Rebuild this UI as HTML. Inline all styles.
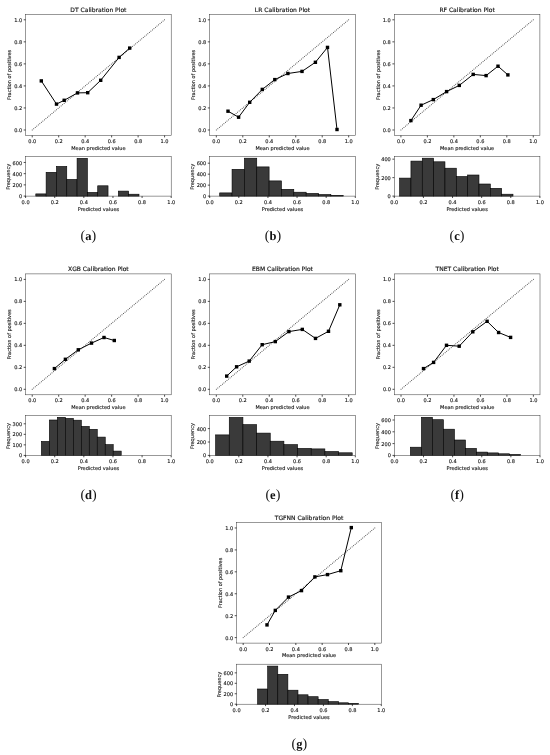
<!DOCTYPE html>
<html><head><meta charset="utf-8"><style>
html,body{margin:0;padding:0;background:#fff;}
svg{display:block;text-rendering:geometricPrecision;}
.t{font-family:"DejaVu Sans","Liberation Sans",sans-serif;font-size:5.0px;fill:#1a1a1a;stroke:#1a1a1a;stroke-width:0.14px;}
.ti{font-family:"DejaVu Sans","Liberation Sans",sans-serif;font-size:6.0px;fill:#111;stroke:#111;stroke-width:0.15px;}
.cap{font-family:"Liberation Serif",serif;font-size:14px;fill:#111;}
.cl{font-weight:bold;font-size:12.5px;}
.tc{text-anchor:middle;}
.yl{font-size:5.0px;}
.te{text-anchor:end;}
.diag{stroke:#3a3a3a;stroke-width:1.0;stroke-linecap:round;fill:none;}
.curve{fill:none;stroke:#000;stroke-width:1;stroke-linejoin:round;}
.mk{fill:#000;}
.sp{fill:none;stroke:#333;stroke-width:0.5;}
.tk{stroke:#000;stroke-width:0.7;}
.bar{fill:#3a3a3a;stroke:#000;stroke-width:0.6;}
</style></head><body>
<svg width="550" height="755" viewBox="0 0 550 755">
<rect width="550" height="755" fill="#fff"/>
<g>
<path d="M32.22 129.99h0M33.74 128.72h0M35.26 127.46h0M36.78 126.19h0M38.3 124.93h0M39.83 123.66h0M41.35 122.39h0M42.87 121.13h0M44.39 119.86h0M45.91 118.59h0M47.43 117.33h0M48.95 116.06h0M50.48 114.79h0M52 113.53h0M53.52 112.26h0M55.04 110.99h0M56.56 109.73h0M58.08 108.46h0M59.6 107.19h0M61.13 105.93h0M62.65 104.66h0M64.17 103.4h0M65.69 102.13h0M67.21 100.86h0M68.73 99.6h0M70.25 98.33h0M71.78 97.06h0M73.3 95.8h0M74.82 94.53h0M76.34 93.26h0M77.86 92h0M79.38 90.73h0M80.9 89.46h0M82.43 88.2h0M83.95 86.93h0M85.47 85.66h0M86.99 84.4h0M88.51 83.13h0M90.03 81.87h0M91.55 80.6h0M93.08 79.33h0M94.6 78.07h0M96.12 76.8h0M97.64 75.53h0M99.16 74.27h0M100.68 73h0M102.2 71.73h0M103.72 70.47h0M105.25 69.2h0M106.77 67.93h0M108.29 66.67h0M109.81 65.4h0M111.33 64.14h0M112.85 62.87h0M114.37 61.6h0M115.9 60.34h0M117.42 59.07h0M118.94 57.8h0M120.46 56.54h0M121.98 55.27h0M123.5 54h0M125.02 52.74h0M126.55 51.47h0M128.07 50.2h0M129.59 48.94h0M131.11 47.67h0M132.63 46.4h0M134.15 45.14h0M135.67 43.87h0M137.2 42.61h0M138.72 41.34h0M140.24 40.07h0M141.76 38.81h0M143.28 37.54h0M144.8 36.27h0M146.32 35.01h0M147.85 33.74h0M149.37 32.47h0M150.89 31.21h0M152.41 29.94h0M153.93 28.67h0M155.45 27.41h0M156.97 26.14h0M158.5 24.87h0M160.02 23.61h0M161.54 22.34h0M163.06 21.08h0M164.58 19.81h0" class="diag"/>
<polyline points="41.3,80.9 56.5,104.1 64.2,100.3 77.5,92.9 87.7,92.7 100.7,80.3 119.1,57.4 129.7,48.1" class="curve"/>
<rect x="39.6" y="79.2" width="3.4" height="3.4" class="mk"/>
<rect x="54.8" y="102.4" width="3.4" height="3.4" class="mk"/>
<rect x="62.5" y="98.6" width="3.4" height="3.4" class="mk"/>
<rect x="75.8" y="91.2" width="3.4" height="3.4" class="mk"/>
<rect x="86" y="91" width="3.4" height="3.4" class="mk"/>
<rect x="99" y="78.6" width="3.4" height="3.4" class="mk"/>
<rect x="117.4" y="55.7" width="3.4" height="3.4" class="mk"/>
<rect x="128" y="46.4" width="3.4" height="3.4" class="mk"/>
<rect x="25.6" y="14.3" width="145.6" height="121.2" class="sp"/>
<line x1="32.22" y1="135.5" x2="32.22" y2="137.4" class="tk"/>
<line x1="23.7" y1="129.99" x2="25.6" y2="129.99" class="tk"/>
<text x="32.22" y="142.95" class="t tc">0.0</text>
<text x="22.1" y="132.04" class="t te">0.0</text>
<line x1="58.69" y1="135.5" x2="58.69" y2="137.4" class="tk"/>
<line x1="23.7" y1="107.95" x2="25.6" y2="107.95" class="tk"/>
<text x="58.69" y="142.95" class="t tc">0.2</text>
<text x="22.1" y="110" class="t te">0.2</text>
<line x1="85.16" y1="135.5" x2="85.16" y2="137.4" class="tk"/>
<line x1="23.7" y1="85.92" x2="25.6" y2="85.92" class="tk"/>
<text x="85.16" y="142.95" class="t tc">0.4</text>
<text x="22.1" y="87.97" class="t te">0.4</text>
<line x1="111.64" y1="135.5" x2="111.64" y2="137.4" class="tk"/>
<line x1="23.7" y1="63.88" x2="25.6" y2="63.88" class="tk"/>
<text x="111.64" y="142.95" class="t tc">0.6</text>
<text x="22.1" y="65.93" class="t te">0.6</text>
<line x1="138.11" y1="135.5" x2="138.11" y2="137.4" class="tk"/>
<line x1="23.7" y1="41.85" x2="25.6" y2="41.85" class="tk"/>
<text x="138.11" y="142.95" class="t tc">0.8</text>
<text x="22.1" y="43.9" class="t te">0.8</text>
<line x1="164.58" y1="135.5" x2="164.58" y2="137.4" class="tk"/>
<line x1="23.7" y1="19.81" x2="25.6" y2="19.81" class="tk"/>
<text x="164.58" y="142.95" class="t tc">1.0</text>
<text x="22.1" y="21.86" class="t te">1.0</text>
<text x="98.4" y="11.7" class="ti tc">DT Calibration Plot</text>
<text x="98.4" y="149.55" class="t tc">Mean predicted value</text>
<text transform="translate(10.8,74.9) rotate(-90)" class="t tc yl">Fraction of positives</text>
<rect x="35.8" y="193.9" width="10.32" height="2.2" class="bar"/>
<rect x="46.12" y="172.3" width="10.32" height="23.8" class="bar"/>
<rect x="56.44" y="166.4" width="10.32" height="29.7" class="bar"/>
<rect x="66.76" y="179.4" width="10.32" height="16.7" class="bar"/>
<rect x="77.08" y="158.3" width="10.32" height="37.8" class="bar"/>
<rect x="87.4" y="192.4" width="10.32" height="3.7" class="bar"/>
<rect x="97.72" y="185.8" width="10.32" height="10.3" class="bar"/>
<rect x="118.36" y="191.1" width="10.32" height="5" class="bar"/>
<rect x="128.68" y="194.2" width="10.32" height="1.9" class="bar"/>
<rect x="25.6" y="156.4" width="145.6" height="39.7" class="sp"/>
<line x1="25.6" y1="196.1" x2="25.6" y2="198" class="tk"/>
<text x="25.6" y="203.7" class="t tc">0.0</text>
<line x1="54.72" y1="196.1" x2="54.72" y2="198" class="tk"/>
<text x="54.72" y="203.7" class="t tc">0.2</text>
<line x1="83.84" y1="196.1" x2="83.84" y2="198" class="tk"/>
<text x="83.84" y="203.7" class="t tc">0.4</text>
<line x1="112.96" y1="196.1" x2="112.96" y2="198" class="tk"/>
<text x="112.96" y="203.7" class="t tc">0.6</text>
<line x1="142.08" y1="196.1" x2="142.08" y2="198" class="tk"/>
<text x="142.08" y="203.7" class="t tc">0.8</text>
<line x1="171.2" y1="196.1" x2="171.2" y2="198" class="tk"/>
<text x="171.2" y="203.7" class="t tc">1.0</text>
<line x1="23.7" y1="196.1" x2="25.6" y2="196.1" class="tk"/>
<text x="22.1" y="198.15" class="t te">0</text>
<line x1="23.7" y1="184.89" x2="25.6" y2="184.89" class="tk"/>
<text x="22.1" y="186.94" class="t te">200</text>
<line x1="23.7" y1="173.67" x2="25.6" y2="173.67" class="tk"/>
<text x="22.1" y="175.72" class="t te">400</text>
<line x1="23.7" y1="162.46" x2="25.6" y2="162.46" class="tk"/>
<text x="22.1" y="164.51" class="t te">600</text>
<text x="98.4" y="210.7" class="t tc">Predicted values</text>
<text transform="translate(10,176.75) rotate(-90)" class="t tc yl">Frequency</text>
<text x="88.4" y="239.9" class="cap tc">(<tspan class="cl">a</tspan>)</text>
</g>
<g>
<path d="M216.32 129.99h0M217.84 128.72h0M219.36 127.46h0M220.88 126.19h0M222.4 124.93h0M223.93 123.66h0M225.45 122.39h0M226.97 121.13h0M228.49 119.86h0M230.01 118.59h0M231.53 117.33h0M233.05 116.06h0M234.58 114.79h0M236.1 113.53h0M237.62 112.26h0M239.14 110.99h0M240.66 109.73h0M242.18 108.46h0M243.7 107.19h0M245.23 105.93h0M246.75 104.66h0M248.27 103.4h0M249.79 102.13h0M251.31 100.86h0M252.83 99.6h0M254.35 98.33h0M255.88 97.06h0M257.4 95.8h0M258.92 94.53h0M260.44 93.26h0M261.96 92h0M263.48 90.73h0M265 89.46h0M266.53 88.2h0M268.05 86.93h0M269.57 85.66h0M271.09 84.4h0M272.61 83.13h0M274.13 81.87h0M275.65 80.6h0M277.18 79.33h0M278.7 78.07h0M280.22 76.8h0M281.74 75.53h0M283.26 74.27h0M284.78 73h0M286.3 71.73h0M287.82 70.47h0M289.35 69.2h0M290.87 67.93h0M292.39 66.67h0M293.91 65.4h0M295.43 64.14h0M296.95 62.87h0M298.47 61.6h0M300 60.34h0M301.52 59.07h0M303.04 57.8h0M304.56 56.54h0M306.08 55.27h0M307.6 54h0M309.12 52.74h0M310.65 51.47h0M312.17 50.2h0M313.69 48.94h0M315.21 47.67h0M316.73 46.4h0M318.25 45.14h0M319.77 43.87h0M321.3 42.61h0M322.82 41.34h0M324.34 40.07h0M325.86 38.81h0M327.38 37.54h0M328.9 36.27h0M330.42 35.01h0M331.95 33.74h0M333.47 32.47h0M334.99 31.21h0M336.51 29.94h0M338.03 28.67h0M339.55 27.41h0M341.07 26.14h0M342.6 24.87h0M344.12 23.61h0M345.64 22.34h0M347.16 21.08h0M348.68 19.81h0" class="diag"/>
<polyline points="228,111.2 238.6,117.2 249.7,102.3 262.3,89.4 274.8,79.6 287.9,73.5 302,71.4 315.4,62.3 327.5,47.4 337,129.5" class="curve"/>
<rect x="226.3" y="109.5" width="3.4" height="3.4" class="mk"/>
<rect x="236.9" y="115.5" width="3.4" height="3.4" class="mk"/>
<rect x="248" y="100.6" width="3.4" height="3.4" class="mk"/>
<rect x="260.6" y="87.7" width="3.4" height="3.4" class="mk"/>
<rect x="273.1" y="77.9" width="3.4" height="3.4" class="mk"/>
<rect x="286.2" y="71.8" width="3.4" height="3.4" class="mk"/>
<rect x="300.3" y="69.7" width="3.4" height="3.4" class="mk"/>
<rect x="313.7" y="60.6" width="3.4" height="3.4" class="mk"/>
<rect x="325.8" y="45.7" width="3.4" height="3.4" class="mk"/>
<rect x="335.3" y="127.8" width="3.4" height="3.4" class="mk"/>
<rect x="209.7" y="14.3" width="145.6" height="121.2" class="sp"/>
<line x1="216.32" y1="135.5" x2="216.32" y2="137.4" class="tk"/>
<line x1="207.8" y1="129.99" x2="209.7" y2="129.99" class="tk"/>
<text x="216.32" y="142.95" class="t tc">0.0</text>
<text x="206.2" y="132.04" class="t te">0.0</text>
<line x1="242.79" y1="135.5" x2="242.79" y2="137.4" class="tk"/>
<line x1="207.8" y1="107.95" x2="209.7" y2="107.95" class="tk"/>
<text x="242.79" y="142.95" class="t tc">0.2</text>
<text x="206.2" y="110" class="t te">0.2</text>
<line x1="269.26" y1="135.5" x2="269.26" y2="137.4" class="tk"/>
<line x1="207.8" y1="85.92" x2="209.7" y2="85.92" class="tk"/>
<text x="269.26" y="142.95" class="t tc">0.4</text>
<text x="206.2" y="87.97" class="t te">0.4</text>
<line x1="295.74" y1="135.5" x2="295.74" y2="137.4" class="tk"/>
<line x1="207.8" y1="63.88" x2="209.7" y2="63.88" class="tk"/>
<text x="295.74" y="142.95" class="t tc">0.6</text>
<text x="206.2" y="65.93" class="t te">0.6</text>
<line x1="322.21" y1="135.5" x2="322.21" y2="137.4" class="tk"/>
<line x1="207.8" y1="41.85" x2="209.7" y2="41.85" class="tk"/>
<text x="322.21" y="142.95" class="t tc">0.8</text>
<text x="206.2" y="43.9" class="t te">0.8</text>
<line x1="348.68" y1="135.5" x2="348.68" y2="137.4" class="tk"/>
<line x1="207.8" y1="19.81" x2="209.7" y2="19.81" class="tk"/>
<text x="348.68" y="142.95" class="t tc">1.0</text>
<text x="206.2" y="21.86" class="t te">1.0</text>
<text x="282.5" y="11.7" class="ti tc">LR Calibration Plot</text>
<text x="282.5" y="149.55" class="t tc">Mean predicted value</text>
<text transform="translate(194.9,74.9) rotate(-90)" class="t tc yl">Fraction of positives</text>
<rect x="219.7" y="192.9" width="12.35" height="3.2" class="bar"/>
<rect x="232.05" y="169.3" width="12.35" height="26.8" class="bar"/>
<rect x="244.4" y="158.2" width="12.35" height="37.9" class="bar"/>
<rect x="256.75" y="166.9" width="12.35" height="29.2" class="bar"/>
<rect x="269.1" y="180.9" width="12.35" height="15.2" class="bar"/>
<rect x="281.45" y="189.3" width="12.35" height="6.8" class="bar"/>
<rect x="293.8" y="192.2" width="12.35" height="3.9" class="bar"/>
<rect x="306.15" y="193.4" width="12.35" height="2.7" class="bar"/>
<rect x="318.5" y="194.5" width="12.35" height="1.6" class="bar"/>
<rect x="330.85" y="195.5" width="12.35" height="0.6" class="bar"/>
<rect x="209.7" y="156.4" width="145.6" height="39.7" class="sp"/>
<line x1="209.7" y1="196.1" x2="209.7" y2="198" class="tk"/>
<text x="209.7" y="203.7" class="t tc">0.0</text>
<line x1="238.82" y1="196.1" x2="238.82" y2="198" class="tk"/>
<text x="238.82" y="203.7" class="t tc">0.2</text>
<line x1="267.94" y1="196.1" x2="267.94" y2="198" class="tk"/>
<text x="267.94" y="203.7" class="t tc">0.4</text>
<line x1="297.06" y1="196.1" x2="297.06" y2="198" class="tk"/>
<text x="297.06" y="203.7" class="t tc">0.6</text>
<line x1="326.18" y1="196.1" x2="326.18" y2="198" class="tk"/>
<text x="326.18" y="203.7" class="t tc">0.8</text>
<line x1="355.3" y1="196.1" x2="355.3" y2="198" class="tk"/>
<text x="355.3" y="203.7" class="t tc">1.0</text>
<line x1="207.8" y1="196.1" x2="209.7" y2="196.1" class="tk"/>
<text x="206.2" y="198.15" class="t te">0</text>
<line x1="207.8" y1="185.13" x2="209.7" y2="185.13" class="tk"/>
<text x="206.2" y="187.18" class="t te">200</text>
<line x1="207.8" y1="174.17" x2="209.7" y2="174.17" class="tk"/>
<text x="206.2" y="176.22" class="t te">400</text>
<line x1="207.8" y1="163.2" x2="209.7" y2="163.2" class="tk"/>
<text x="206.2" y="165.25" class="t te">600</text>
<text x="282.5" y="210.7" class="t tc">Predicted values</text>
<text transform="translate(194.1,176.75) rotate(-90)" class="t tc yl">Frequency</text>
<text x="272.9" y="239.9" class="cap tc">(<tspan class="cl">b</tspan>)</text>
</g>
<g>
<path d="M400.92 129.99h0M402.44 128.72h0M403.96 127.46h0M405.48 126.19h0M407 124.93h0M408.53 123.66h0M410.05 122.39h0M411.57 121.13h0M413.09 119.86h0M414.61 118.59h0M416.13 117.33h0M417.65 116.06h0M419.18 114.79h0M420.7 113.53h0M422.22 112.26h0M423.74 110.99h0M425.26 109.73h0M426.78 108.46h0M428.3 107.19h0M429.83 105.93h0M431.35 104.66h0M432.87 103.4h0M434.39 102.13h0M435.91 100.86h0M437.43 99.6h0M438.95 98.33h0M440.48 97.06h0M442 95.8h0M443.52 94.53h0M445.04 93.26h0M446.56 92h0M448.08 90.73h0M449.6 89.46h0M451.13 88.2h0M452.65 86.93h0M454.17 85.66h0M455.69 84.4h0M457.21 83.13h0M458.73 81.87h0M460.25 80.6h0M461.78 79.33h0M463.3 78.07h0M464.82 76.8h0M466.34 75.53h0M467.86 74.27h0M469.38 73h0M470.9 71.73h0M472.42 70.47h0M473.95 69.2h0M475.47 67.93h0M476.99 66.67h0M478.51 65.4h0M480.03 64.14h0M481.55 62.87h0M483.07 61.6h0M484.6 60.34h0M486.12 59.07h0M487.64 57.8h0M489.16 56.54h0M490.68 55.27h0M492.2 54h0M493.72 52.74h0M495.25 51.47h0M496.77 50.2h0M498.29 48.94h0M499.81 47.67h0M501.33 46.4h0M502.85 45.14h0M504.37 43.87h0M505.9 42.61h0M507.42 41.34h0M508.94 40.07h0M510.46 38.81h0M511.98 37.54h0M513.5 36.27h0M515.02 35.01h0M516.55 33.74h0M518.07 32.47h0M519.59 31.21h0M521.11 29.94h0M522.63 28.67h0M524.15 27.41h0M525.67 26.14h0M527.2 24.87h0M528.72 23.61h0M530.24 22.34h0M531.76 21.08h0M533.28 19.81h0" class="diag"/>
<polyline points="410.9,120.6 421.1,105.2 433.3,99.6 446.6,91.6 459.3,85.4 473.2,74.4 486.1,75.6 498,66.2 507.9,74.9" class="curve"/>
<rect x="409.2" y="118.9" width="3.4" height="3.4" class="mk"/>
<rect x="419.4" y="103.5" width="3.4" height="3.4" class="mk"/>
<rect x="431.6" y="97.9" width="3.4" height="3.4" class="mk"/>
<rect x="444.9" y="89.9" width="3.4" height="3.4" class="mk"/>
<rect x="457.6" y="83.7" width="3.4" height="3.4" class="mk"/>
<rect x="471.5" y="72.7" width="3.4" height="3.4" class="mk"/>
<rect x="484.4" y="73.9" width="3.4" height="3.4" class="mk"/>
<rect x="496.3" y="64.5" width="3.4" height="3.4" class="mk"/>
<rect x="506.2" y="73.2" width="3.4" height="3.4" class="mk"/>
<rect x="394.3" y="14.3" width="145.6" height="121.2" class="sp"/>
<line x1="400.92" y1="135.5" x2="400.92" y2="137.4" class="tk"/>
<line x1="392.4" y1="129.99" x2="394.3" y2="129.99" class="tk"/>
<text x="400.92" y="142.95" class="t tc">0.0</text>
<text x="390.8" y="132.04" class="t te">0.0</text>
<line x1="427.39" y1="135.5" x2="427.39" y2="137.4" class="tk"/>
<line x1="392.4" y1="107.95" x2="394.3" y2="107.95" class="tk"/>
<text x="427.39" y="142.95" class="t tc">0.2</text>
<text x="390.8" y="110" class="t te">0.2</text>
<line x1="453.86" y1="135.5" x2="453.86" y2="137.4" class="tk"/>
<line x1="392.4" y1="85.92" x2="394.3" y2="85.92" class="tk"/>
<text x="453.86" y="142.95" class="t tc">0.4</text>
<text x="390.8" y="87.97" class="t te">0.4</text>
<line x1="480.34" y1="135.5" x2="480.34" y2="137.4" class="tk"/>
<line x1="392.4" y1="63.88" x2="394.3" y2="63.88" class="tk"/>
<text x="480.34" y="142.95" class="t tc">0.6</text>
<text x="390.8" y="65.93" class="t te">0.6</text>
<line x1="506.81" y1="135.5" x2="506.81" y2="137.4" class="tk"/>
<line x1="392.4" y1="41.85" x2="394.3" y2="41.85" class="tk"/>
<text x="506.81" y="142.95" class="t tc">0.8</text>
<text x="390.8" y="43.9" class="t te">0.8</text>
<line x1="533.28" y1="135.5" x2="533.28" y2="137.4" class="tk"/>
<line x1="392.4" y1="19.81" x2="394.3" y2="19.81" class="tk"/>
<text x="533.28" y="142.95" class="t tc">1.0</text>
<text x="390.8" y="21.86" class="t te">1.0</text>
<text x="467.1" y="11.7" class="ti tc">RF Calibration Plot</text>
<text x="467.1" y="149.55" class="t tc">Mean predicted value</text>
<text transform="translate(379.5,74.9) rotate(-90)" class="t tc yl">Fraction of positives</text>
<rect x="399.6" y="178.1" width="11.34" height="18" class="bar"/>
<rect x="410.94" y="161.1" width="11.34" height="35" class="bar"/>
<rect x="422.28" y="158.2" width="11.34" height="37.9" class="bar"/>
<rect x="433.62" y="161.8" width="11.34" height="34.3" class="bar"/>
<rect x="444.96" y="168.2" width="11.34" height="27.9" class="bar"/>
<rect x="456.3" y="176.5" width="11.34" height="19.6" class="bar"/>
<rect x="467.64" y="175" width="11.34" height="21.1" class="bar"/>
<rect x="478.98" y="184" width="11.34" height="12.1" class="bar"/>
<rect x="490.32" y="188.3" width="11.34" height="7.8" class="bar"/>
<rect x="501.66" y="194.2" width="11.34" height="1.9" class="bar"/>
<rect x="394.3" y="156.4" width="145.6" height="39.7" class="sp"/>
<line x1="394.3" y1="196.1" x2="394.3" y2="198" class="tk"/>
<text x="394.3" y="203.7" class="t tc">0.0</text>
<line x1="423.42" y1="196.1" x2="423.42" y2="198" class="tk"/>
<text x="423.42" y="203.7" class="t tc">0.2</text>
<line x1="452.54" y1="196.1" x2="452.54" y2="198" class="tk"/>
<text x="452.54" y="203.7" class="t tc">0.4</text>
<line x1="481.66" y1="196.1" x2="481.66" y2="198" class="tk"/>
<text x="481.66" y="203.7" class="t tc">0.6</text>
<line x1="510.78" y1="196.1" x2="510.78" y2="198" class="tk"/>
<text x="510.78" y="203.7" class="t tc">0.8</text>
<line x1="539.9" y1="196.1" x2="539.9" y2="198" class="tk"/>
<text x="539.9" y="203.7" class="t tc">1.0</text>
<line x1="392.4" y1="196.1" x2="394.3" y2="196.1" class="tk"/>
<text x="390.8" y="198.15" class="t te">0</text>
<line x1="392.4" y1="177.63" x2="394.3" y2="177.63" class="tk"/>
<text x="390.8" y="179.68" class="t te">200</text>
<line x1="392.4" y1="159.17" x2="394.3" y2="159.17" class="tk"/>
<text x="390.8" y="161.22" class="t te">400</text>
<text x="467.1" y="210.7" class="t tc">Predicted values</text>
<text transform="translate(378.7,176.75) rotate(-90)" class="t tc yl">Frequency</text>
<text x="457" y="239.9" class="cap tc">(<tspan class="cl">c</tspan>)</text>
</g>
<g>
<path d="M32.22 389.3h0M33.74 388.04h0M35.26 386.78h0M36.78 385.51h0M38.3 384.25h0M39.83 382.99h0M41.35 381.72h0M42.87 380.46h0M44.39 379.2h0M45.91 377.93h0M47.43 376.67h0M48.95 375.41h0M50.48 374.14h0M52 372.88h0M53.52 371.62h0M55.04 370.35h0M56.56 369.09h0M58.08 367.83h0M59.6 366.56h0M61.13 365.3h0M62.65 364.04h0M64.17 362.77h0M65.69 361.51h0M67.21 360.25h0M68.73 358.98h0M70.25 357.72h0M71.78 356.46h0M73.3 355.19h0M74.82 353.93h0M76.34 352.67h0M77.86 351.4h0M79.38 350.14h0M80.9 348.88h0M82.43 347.61h0M83.95 346.35h0M85.47 345.09h0M86.99 343.82h0M88.51 342.56h0M90.03 341.3h0M91.55 340.03h0M93.08 338.77h0M94.6 337.51h0M96.12 336.24h0M97.64 334.98h0M99.16 333.72h0M100.68 332.46h0M102.2 331.19h0M103.72 329.93h0M105.25 328.67h0M106.77 327.4h0M108.29 326.14h0M109.81 324.88h0M111.33 323.61h0M112.85 322.35h0M114.37 321.09h0M115.9 319.82h0M117.42 318.56h0M118.94 317.3h0M120.46 316.03h0M121.98 314.77h0M123.5 313.51h0M125.02 312.24h0M126.55 310.98h0M128.07 309.72h0M129.59 308.45h0M131.11 307.19h0M132.63 305.93h0M134.15 304.66h0M135.67 303.4h0M137.2 302.14h0M138.72 300.87h0M140.24 299.61h0M141.76 298.35h0M143.28 297.08h0M144.8 295.82h0M146.32 294.56h0M147.85 293.29h0M149.37 292.03h0M150.89 290.77h0M152.41 289.5h0M153.93 288.24h0M155.45 286.98h0M156.97 285.71h0M158.5 284.45h0M160.02 283.19h0M161.54 281.92h0M163.06 280.66h0M164.58 279.4h0" class="diag"/>
<polyline points="54.4,368.6 65.4,359.3 78.3,349.8 91.5,343.1 104,337.5 114.3,340.5" class="curve"/>
<rect x="52.7" y="366.9" width="3.4" height="3.4" class="mk"/>
<rect x="63.7" y="357.6" width="3.4" height="3.4" class="mk"/>
<rect x="76.6" y="348.1" width="3.4" height="3.4" class="mk"/>
<rect x="89.8" y="341.4" width="3.4" height="3.4" class="mk"/>
<rect x="102.3" y="335.8" width="3.4" height="3.4" class="mk"/>
<rect x="112.6" y="338.8" width="3.4" height="3.4" class="mk"/>
<rect x="25.6" y="273.9" width="145.6" height="120.9" class="sp"/>
<line x1="32.22" y1="394.8" x2="32.22" y2="396.7" class="tk"/>
<line x1="23.7" y1="389.3" x2="25.6" y2="389.3" class="tk"/>
<text x="32.22" y="402.25" class="t tc">0.0</text>
<text x="22.1" y="391.35" class="t te">0.0</text>
<line x1="58.69" y1="394.8" x2="58.69" y2="396.7" class="tk"/>
<line x1="23.7" y1="367.32" x2="25.6" y2="367.32" class="tk"/>
<text x="58.69" y="402.25" class="t tc">0.2</text>
<text x="22.1" y="369.37" class="t te">0.2</text>
<line x1="85.16" y1="394.8" x2="85.16" y2="396.7" class="tk"/>
<line x1="23.7" y1="345.34" x2="25.6" y2="345.34" class="tk"/>
<text x="85.16" y="402.25" class="t tc">0.4</text>
<text x="22.1" y="347.39" class="t te">0.4</text>
<line x1="111.64" y1="394.8" x2="111.64" y2="396.7" class="tk"/>
<line x1="23.7" y1="323.36" x2="25.6" y2="323.36" class="tk"/>
<text x="111.64" y="402.25" class="t tc">0.6</text>
<text x="22.1" y="325.41" class="t te">0.6</text>
<line x1="138.11" y1="394.8" x2="138.11" y2="396.7" class="tk"/>
<line x1="23.7" y1="301.38" x2="25.6" y2="301.38" class="tk"/>
<text x="138.11" y="402.25" class="t tc">0.8</text>
<text x="22.1" y="303.43" class="t te">0.8</text>
<line x1="164.58" y1="394.8" x2="164.58" y2="396.7" class="tk"/>
<line x1="23.7" y1="279.4" x2="25.6" y2="279.4" class="tk"/>
<text x="164.58" y="402.25" class="t tc">1.0</text>
<text x="22.1" y="281.45" class="t te">1.0</text>
<text x="98.4" y="271.3" class="ti tc">XGB Calibration Plot</text>
<text x="98.4" y="408.85" class="t tc">Mean predicted value</text>
<text transform="translate(10.8,334.35) rotate(-90)" class="t tc yl">Fraction of positives</text>
<rect x="41.4" y="441.4" width="7.98" height="14" class="bar"/>
<rect x="49.38" y="420" width="7.98" height="35.4" class="bar"/>
<rect x="57.36" y="417.3" width="7.98" height="38.1" class="bar"/>
<rect x="65.34" y="418.4" width="7.98" height="37" class="bar"/>
<rect x="73.32" y="420.2" width="7.98" height="35.2" class="bar"/>
<rect x="81.3" y="426.4" width="7.98" height="29" class="bar"/>
<rect x="89.28" y="429.3" width="7.98" height="26.1" class="bar"/>
<rect x="97.26" y="437.1" width="7.98" height="18.3" class="bar"/>
<rect x="105.24" y="444.6" width="7.98" height="10.8" class="bar"/>
<rect x="113.22" y="451.1" width="7.98" height="4.3" class="bar"/>
<rect x="25.6" y="415.7" width="145.6" height="39.7" class="sp"/>
<line x1="25.6" y1="455.4" x2="25.6" y2="457.3" class="tk"/>
<text x="25.6" y="463" class="t tc">0.0</text>
<line x1="54.72" y1="455.4" x2="54.72" y2="457.3" class="tk"/>
<text x="54.72" y="463" class="t tc">0.2</text>
<line x1="83.84" y1="455.4" x2="83.84" y2="457.3" class="tk"/>
<text x="83.84" y="463" class="t tc">0.4</text>
<line x1="112.96" y1="455.4" x2="112.96" y2="457.3" class="tk"/>
<text x="112.96" y="463" class="t tc">0.6</text>
<line x1="142.08" y1="455.4" x2="142.08" y2="457.3" class="tk"/>
<text x="142.08" y="463" class="t tc">0.8</text>
<line x1="171.2" y1="455.4" x2="171.2" y2="457.3" class="tk"/>
<text x="171.2" y="463" class="t tc">1.0</text>
<line x1="23.7" y1="455.4" x2="25.6" y2="455.4" class="tk"/>
<text x="22.1" y="457.45" class="t te">0</text>
<line x1="23.7" y1="444.87" x2="25.6" y2="444.87" class="tk"/>
<text x="22.1" y="446.92" class="t te">100</text>
<line x1="23.7" y1="434.34" x2="25.6" y2="434.34" class="tk"/>
<text x="22.1" y="436.39" class="t te">200</text>
<line x1="23.7" y1="423.81" x2="25.6" y2="423.81" class="tk"/>
<text x="22.1" y="425.86" class="t te">300</text>
<text x="98.4" y="470" class="t tc">Predicted values</text>
<text transform="translate(10,436.05) rotate(-90)" class="t tc yl">Frequency</text>
<text x="88.6" y="499.3" class="cap tc">(<tspan class="cl">d</tspan>)</text>
</g>
<g>
<path d="M216.32 389.3h0M217.84 388.04h0M219.36 386.78h0M220.88 385.51h0M222.4 384.25h0M223.93 382.99h0M225.45 381.72h0M226.97 380.46h0M228.49 379.2h0M230.01 377.93h0M231.53 376.67h0M233.05 375.41h0M234.58 374.14h0M236.1 372.88h0M237.62 371.62h0M239.14 370.35h0M240.66 369.09h0M242.18 367.83h0M243.7 366.56h0M245.23 365.3h0M246.75 364.04h0M248.27 362.77h0M249.79 361.51h0M251.31 360.25h0M252.83 358.98h0M254.35 357.72h0M255.88 356.46h0M257.4 355.19h0M258.92 353.93h0M260.44 352.67h0M261.96 351.4h0M263.48 350.14h0M265 348.88h0M266.53 347.61h0M268.05 346.35h0M269.57 345.09h0M271.09 343.82h0M272.61 342.56h0M274.13 341.3h0M275.65 340.03h0M277.18 338.77h0M278.7 337.51h0M280.22 336.24h0M281.74 334.98h0M283.26 333.72h0M284.78 332.46h0M286.3 331.19h0M287.82 329.93h0M289.35 328.67h0M290.87 327.4h0M292.39 326.14h0M293.91 324.88h0M295.43 323.61h0M296.95 322.35h0M298.47 321.09h0M300 319.82h0M301.52 318.56h0M303.04 317.3h0M304.56 316.03h0M306.08 314.77h0M307.6 313.51h0M309.12 312.24h0M310.65 310.98h0M312.17 309.72h0M313.69 308.45h0M315.21 307.19h0M316.73 305.93h0M318.25 304.66h0M319.77 303.4h0M321.3 302.14h0M322.82 300.87h0M324.34 299.61h0M325.86 298.35h0M327.38 297.08h0M328.9 295.82h0M330.42 294.56h0M331.95 293.29h0M333.47 292.03h0M334.99 290.77h0M336.51 289.5h0M338.03 288.24h0M339.55 286.98h0M341.07 285.71h0M342.6 284.45h0M344.12 283.19h0M345.64 281.92h0M347.16 280.66h0M348.68 279.4h0" class="diag"/>
<polyline points="226.7,376.1 236.6,366.8 249.2,361.1 262.2,344.7 275.3,341.6 288.9,331.6 302.3,329.4 315.5,338.4 328.5,331.3 339.8,304.8" class="curve"/>
<rect x="225" y="374.4" width="3.4" height="3.4" class="mk"/>
<rect x="234.9" y="365.1" width="3.4" height="3.4" class="mk"/>
<rect x="247.5" y="359.4" width="3.4" height="3.4" class="mk"/>
<rect x="260.5" y="343" width="3.4" height="3.4" class="mk"/>
<rect x="273.6" y="339.9" width="3.4" height="3.4" class="mk"/>
<rect x="287.2" y="329.9" width="3.4" height="3.4" class="mk"/>
<rect x="300.6" y="327.7" width="3.4" height="3.4" class="mk"/>
<rect x="313.8" y="336.7" width="3.4" height="3.4" class="mk"/>
<rect x="326.8" y="329.6" width="3.4" height="3.4" class="mk"/>
<rect x="338.1" y="303.1" width="3.4" height="3.4" class="mk"/>
<rect x="209.7" y="273.9" width="145.6" height="120.9" class="sp"/>
<line x1="216.32" y1="394.8" x2="216.32" y2="396.7" class="tk"/>
<line x1="207.8" y1="389.3" x2="209.7" y2="389.3" class="tk"/>
<text x="216.32" y="402.25" class="t tc">0.0</text>
<text x="206.2" y="391.35" class="t te">0.0</text>
<line x1="242.79" y1="394.8" x2="242.79" y2="396.7" class="tk"/>
<line x1="207.8" y1="367.32" x2="209.7" y2="367.32" class="tk"/>
<text x="242.79" y="402.25" class="t tc">0.2</text>
<text x="206.2" y="369.37" class="t te">0.2</text>
<line x1="269.26" y1="394.8" x2="269.26" y2="396.7" class="tk"/>
<line x1="207.8" y1="345.34" x2="209.7" y2="345.34" class="tk"/>
<text x="269.26" y="402.25" class="t tc">0.4</text>
<text x="206.2" y="347.39" class="t te">0.4</text>
<line x1="295.74" y1="394.8" x2="295.74" y2="396.7" class="tk"/>
<line x1="207.8" y1="323.36" x2="209.7" y2="323.36" class="tk"/>
<text x="295.74" y="402.25" class="t tc">0.6</text>
<text x="206.2" y="325.41" class="t te">0.6</text>
<line x1="322.21" y1="394.8" x2="322.21" y2="396.7" class="tk"/>
<line x1="207.8" y1="301.38" x2="209.7" y2="301.38" class="tk"/>
<text x="322.21" y="402.25" class="t tc">0.8</text>
<text x="206.2" y="303.43" class="t te">0.8</text>
<line x1="348.68" y1="394.8" x2="348.68" y2="396.7" class="tk"/>
<line x1="207.8" y1="279.4" x2="209.7" y2="279.4" class="tk"/>
<text x="348.68" y="402.25" class="t tc">1.0</text>
<text x="206.2" y="281.45" class="t te">1.0</text>
<text x="282.5" y="271.3" class="ti tc">EBM Calibration Plot</text>
<text x="282.5" y="408.85" class="t tc">Mean predicted value</text>
<text transform="translate(194.9,334.35) rotate(-90)" class="t tc yl">Fraction of positives</text>
<rect x="215.6" y="434.9" width="13.66" height="20.5" class="bar"/>
<rect x="229.26" y="417.4" width="13.66" height="38" class="bar"/>
<rect x="242.92" y="424.6" width="13.66" height="30.8" class="bar"/>
<rect x="256.58" y="433.1" width="13.66" height="22.3" class="bar"/>
<rect x="270.24" y="441.2" width="13.66" height="14.2" class="bar"/>
<rect x="283.9" y="444.6" width="13.66" height="10.8" class="bar"/>
<rect x="297.56" y="448.4" width="13.66" height="7" class="bar"/>
<rect x="311.22" y="448.9" width="13.66" height="6.5" class="bar"/>
<rect x="324.88" y="451.5" width="13.66" height="3.9" class="bar"/>
<rect x="338.54" y="452.8" width="13.66" height="2.6" class="bar"/>
<rect x="209.7" y="415.7" width="145.6" height="39.7" class="sp"/>
<line x1="209.7" y1="455.4" x2="209.7" y2="457.3" class="tk"/>
<text x="209.7" y="463" class="t tc">0.0</text>
<line x1="238.82" y1="455.4" x2="238.82" y2="457.3" class="tk"/>
<text x="238.82" y="463" class="t tc">0.2</text>
<line x1="267.94" y1="455.4" x2="267.94" y2="457.3" class="tk"/>
<text x="267.94" y="463" class="t tc">0.4</text>
<line x1="297.06" y1="455.4" x2="297.06" y2="457.3" class="tk"/>
<text x="297.06" y="463" class="t tc">0.6</text>
<line x1="326.18" y1="455.4" x2="326.18" y2="457.3" class="tk"/>
<text x="326.18" y="463" class="t tc">0.8</text>
<line x1="355.3" y1="455.4" x2="355.3" y2="457.3" class="tk"/>
<text x="355.3" y="463" class="t tc">1.0</text>
<line x1="207.8" y1="455.4" x2="209.7" y2="455.4" class="tk"/>
<text x="206.2" y="457.45" class="t te">0</text>
<line x1="207.8" y1="442.01" x2="209.7" y2="442.01" class="tk"/>
<text x="206.2" y="444.06" class="t te">200</text>
<line x1="207.8" y1="428.62" x2="209.7" y2="428.62" class="tk"/>
<text x="206.2" y="430.67" class="t te">400</text>
<text x="282.5" y="470" class="t tc">Predicted values</text>
<text transform="translate(194.1,436.05) rotate(-90)" class="t tc yl">Frequency</text>
<text x="272.9" y="499.3" class="cap tc">(<tspan class="cl">e</tspan>)</text>
</g>
<g>
<path d="M401.02 389.3h0M402.54 388.04h0M404.06 386.78h0M405.58 385.51h0M407.1 384.25h0M408.63 382.99h0M410.15 381.72h0M411.67 380.46h0M413.19 379.2h0M414.71 377.93h0M416.23 376.67h0M417.75 375.41h0M419.28 374.14h0M420.8 372.88h0M422.32 371.62h0M423.84 370.35h0M425.36 369.09h0M426.88 367.83h0M428.4 366.56h0M429.93 365.3h0M431.45 364.04h0M432.97 362.77h0M434.49 361.51h0M436.01 360.25h0M437.53 358.98h0M439.05 357.72h0M440.58 356.46h0M442.1 355.19h0M443.62 353.93h0M445.14 352.67h0M446.66 351.4h0M448.18 350.14h0M449.7 348.88h0M451.23 347.61h0M452.75 346.35h0M454.27 345.09h0M455.79 343.82h0M457.31 342.56h0M458.83 341.3h0M460.35 340.03h0M461.88 338.77h0M463.4 337.51h0M464.92 336.24h0M466.44 334.98h0M467.96 333.72h0M469.48 332.46h0M471 331.19h0M472.52 329.93h0M474.05 328.67h0M475.57 327.4h0M477.09 326.14h0M478.61 324.88h0M480.13 323.61h0M481.65 322.35h0M483.17 321.09h0M484.7 319.82h0M486.22 318.56h0M487.74 317.3h0M489.26 316.03h0M490.78 314.77h0M492.3 313.51h0M493.82 312.24h0M495.35 310.98h0M496.87 309.72h0M498.39 308.45h0M499.91 307.19h0M501.43 305.93h0M502.95 304.66h0M504.47 303.4h0M506 302.14h0M507.52 300.87h0M509.04 299.61h0M510.56 298.35h0M512.08 297.08h0M513.6 295.82h0M515.12 294.56h0M516.65 293.29h0M518.17 292.03h0M519.69 290.77h0M521.21 289.5h0M522.73 288.24h0M524.25 286.98h0M525.77 285.71h0M527.3 284.45h0M528.82 283.19h0M530.34 281.92h0M531.86 280.66h0M533.38 279.4h0" class="diag"/>
<polyline points="423.5,368.6 433.6,362.4 446.5,345.3 459.2,346.2 472.8,331.8 487.1,321.3 498.6,332.5 510.6,337.4" class="curve"/>
<rect x="421.8" y="366.9" width="3.4" height="3.4" class="mk"/>
<rect x="431.9" y="360.7" width="3.4" height="3.4" class="mk"/>
<rect x="444.8" y="343.6" width="3.4" height="3.4" class="mk"/>
<rect x="457.5" y="344.5" width="3.4" height="3.4" class="mk"/>
<rect x="471.1" y="330.1" width="3.4" height="3.4" class="mk"/>
<rect x="485.4" y="319.6" width="3.4" height="3.4" class="mk"/>
<rect x="496.9" y="330.8" width="3.4" height="3.4" class="mk"/>
<rect x="508.9" y="335.7" width="3.4" height="3.4" class="mk"/>
<rect x="394.4" y="273.9" width="145.6" height="120.9" class="sp"/>
<line x1="401.02" y1="394.8" x2="401.02" y2="396.7" class="tk"/>
<line x1="392.5" y1="389.3" x2="394.4" y2="389.3" class="tk"/>
<text x="401.02" y="402.25" class="t tc">0.0</text>
<text x="390.9" y="391.35" class="t te">0.0</text>
<line x1="427.49" y1="394.8" x2="427.49" y2="396.7" class="tk"/>
<line x1="392.5" y1="367.32" x2="394.4" y2="367.32" class="tk"/>
<text x="427.49" y="402.25" class="t tc">0.2</text>
<text x="390.9" y="369.37" class="t te">0.2</text>
<line x1="453.96" y1="394.8" x2="453.96" y2="396.7" class="tk"/>
<line x1="392.5" y1="345.34" x2="394.4" y2="345.34" class="tk"/>
<text x="453.96" y="402.25" class="t tc">0.4</text>
<text x="390.9" y="347.39" class="t te">0.4</text>
<line x1="480.44" y1="394.8" x2="480.44" y2="396.7" class="tk"/>
<line x1="392.5" y1="323.36" x2="394.4" y2="323.36" class="tk"/>
<text x="480.44" y="402.25" class="t tc">0.6</text>
<text x="390.9" y="325.41" class="t te">0.6</text>
<line x1="506.91" y1="394.8" x2="506.91" y2="396.7" class="tk"/>
<line x1="392.5" y1="301.38" x2="394.4" y2="301.38" class="tk"/>
<text x="506.91" y="402.25" class="t tc">0.8</text>
<text x="390.9" y="303.43" class="t te">0.8</text>
<line x1="533.38" y1="394.8" x2="533.38" y2="396.7" class="tk"/>
<line x1="392.5" y1="279.4" x2="394.4" y2="279.4" class="tk"/>
<text x="533.38" y="402.25" class="t tc">1.0</text>
<text x="390.9" y="281.45" class="t te">1.0</text>
<text x="467.2" y="271.3" class="ti tc">TNET Calibration Plot</text>
<text x="467.2" y="408.85" class="t tc">Mean predicted value</text>
<text transform="translate(379.6,334.35) rotate(-90)" class="t tc yl">Fraction of positives</text>
<rect x="410.4" y="447.2" width="11.01" height="8.2" class="bar"/>
<rect x="421.41" y="417.3" width="11.01" height="38.1" class="bar"/>
<rect x="432.42" y="419.7" width="11.01" height="35.7" class="bar"/>
<rect x="443.43" y="429.2" width="11.01" height="26.2" class="bar"/>
<rect x="454.44" y="440" width="11.01" height="15.4" class="bar"/>
<rect x="465.45" y="448.4" width="11.01" height="7" class="bar"/>
<rect x="476.46" y="452.1" width="11.01" height="3.3" class="bar"/>
<rect x="487.47" y="452.9" width="11.01" height="2.5" class="bar"/>
<rect x="498.48" y="453.8" width="11.01" height="1.6" class="bar"/>
<rect x="509.49" y="454.4" width="11.01" height="1" class="bar"/>
<rect x="394.4" y="415.7" width="145.6" height="39.7" class="sp"/>
<line x1="394.4" y1="455.4" x2="394.4" y2="457.3" class="tk"/>
<text x="394.4" y="463" class="t tc">0.0</text>
<line x1="423.52" y1="455.4" x2="423.52" y2="457.3" class="tk"/>
<text x="423.52" y="463" class="t tc">0.2</text>
<line x1="452.64" y1="455.4" x2="452.64" y2="457.3" class="tk"/>
<text x="452.64" y="463" class="t tc">0.4</text>
<line x1="481.76" y1="455.4" x2="481.76" y2="457.3" class="tk"/>
<text x="481.76" y="463" class="t tc">0.6</text>
<line x1="510.88" y1="455.4" x2="510.88" y2="457.3" class="tk"/>
<text x="510.88" y="463" class="t tc">0.8</text>
<line x1="540" y1="455.4" x2="540" y2="457.3" class="tk"/>
<text x="540" y="463" class="t tc">1.0</text>
<line x1="392.5" y1="455.4" x2="394.4" y2="455.4" class="tk"/>
<text x="390.9" y="457.45" class="t te">0</text>
<line x1="392.5" y1="443.6" x2="394.4" y2="443.6" class="tk"/>
<text x="390.9" y="445.65" class="t te">200</text>
<line x1="392.5" y1="431.8" x2="394.4" y2="431.8" class="tk"/>
<text x="390.9" y="433.85" class="t te">400</text>
<line x1="392.5" y1="420.01" x2="394.4" y2="420.01" class="tk"/>
<text x="390.9" y="422.06" class="t te">600</text>
<text x="467.2" y="470" class="t tc">Predicted values</text>
<text transform="translate(378.8,436.05) rotate(-90)" class="t tc yl">Frequency</text>
<text x="457.2" y="499.3" class="cap tc">(<tspan class="cl">f</tspan>)</text>
</g>
<g>
<path d="M243.18 637.62h0M244.69 636.36h0M246.21 635.1h0M247.72 633.84h0M249.23 632.58h0M250.75 631.32h0M252.26 630.06h0M253.77 628.8h0M255.29 627.54h0M256.8 626.28h0M258.31 625.02h0M259.83 623.76h0M261.34 622.5h0M262.85 621.24h0M264.36 619.98h0M265.88 618.72h0M267.39 617.46h0M268.9 616.19h0M270.42 614.93h0M271.93 613.67h0M273.44 612.41h0M274.96 611.15h0M276.47 609.89h0M277.98 608.63h0M279.5 607.37h0M281.01 606.11h0M282.52 604.85h0M284.03 603.59h0M285.55 602.33h0M287.06 601.07h0M288.57 599.81h0M290.09 598.55h0M291.6 597.29h0M293.11 596.03h0M294.63 594.77h0M296.14 593.51h0M297.65 592.25h0M299.17 590.99h0M300.68 589.73h0M302.19 588.47h0M303.7 587.21h0M305.22 585.95h0M306.73 584.69h0M308.24 583.43h0M309.76 582.17h0M311.27 580.91h0M312.78 579.65h0M314.3 578.39h0M315.81 577.13h0M317.32 575.87h0M318.83 574.61h0M320.35 573.35h0M321.86 572.09h0M323.37 570.83h0M324.89 569.57h0M326.4 568.31h0M327.91 567.05h0M329.43 565.79h0M330.94 564.53h0M332.45 563.27h0M333.97 562.01h0M335.48 560.75h0M336.99 559.49h0M338.5 558.23h0M340.02 556.97h0M341.53 555.71h0M343.04 554.45h0M344.56 553.19h0M346.07 551.93h0M347.58 550.67h0M349.1 549.41h0M350.61 548.14h0M352.12 546.88h0M353.64 545.62h0M355.15 544.36h0M356.66 543.1h0M358.17 541.84h0M359.69 540.58h0M361.2 539.32h0M362.71 538.06h0M364.23 536.8h0M365.74 535.54h0M367.25 534.28h0M368.77 533.02h0M370.28 531.76h0M371.79 530.5h0M373.31 529.24h0M374.82 527.98h0" class="diag"/>
<polyline points="267,624.9 275.3,610.4 288.5,597.1 301.5,590.6 314.9,576.9 327.5,574.6 340.8,570.7 351.3,527.6" class="curve"/>
<rect x="265.3" y="623.2" width="3.4" height="3.4" class="mk"/>
<rect x="273.6" y="608.7" width="3.4" height="3.4" class="mk"/>
<rect x="286.8" y="595.4" width="3.4" height="3.4" class="mk"/>
<rect x="299.8" y="588.9" width="3.4" height="3.4" class="mk"/>
<rect x="313.2" y="575.2" width="3.4" height="3.4" class="mk"/>
<rect x="325.8" y="572.9" width="3.4" height="3.4" class="mk"/>
<rect x="339.1" y="569" width="3.4" height="3.4" class="mk"/>
<rect x="349.6" y="525.9" width="3.4" height="3.4" class="mk"/>
<rect x="236.6" y="522.5" width="144.8" height="120.6" class="sp"/>
<line x1="243.18" y1="643.1" x2="243.18" y2="645" class="tk"/>
<line x1="234.7" y1="637.62" x2="236.6" y2="637.62" class="tk"/>
<text x="243.18" y="650.55" class="t tc">0.0</text>
<text x="233.1" y="639.67" class="t te">0.0</text>
<line x1="269.51" y1="643.1" x2="269.51" y2="645" class="tk"/>
<line x1="234.7" y1="615.69" x2="236.6" y2="615.69" class="tk"/>
<text x="269.51" y="650.55" class="t tc">0.2</text>
<text x="233.1" y="617.74" class="t te">0.2</text>
<line x1="295.84" y1="643.1" x2="295.84" y2="645" class="tk"/>
<line x1="234.7" y1="593.76" x2="236.6" y2="593.76" class="tk"/>
<text x="295.84" y="650.55" class="t tc">0.4</text>
<text x="233.1" y="595.81" class="t te">0.4</text>
<line x1="322.16" y1="643.1" x2="322.16" y2="645" class="tk"/>
<line x1="234.7" y1="571.84" x2="236.6" y2="571.84" class="tk"/>
<text x="322.16" y="650.55" class="t tc">0.6</text>
<text x="233.1" y="573.89" class="t te">0.6</text>
<line x1="348.49" y1="643.1" x2="348.49" y2="645" class="tk"/>
<line x1="234.7" y1="549.91" x2="236.6" y2="549.91" class="tk"/>
<text x="348.49" y="650.55" class="t tc">0.8</text>
<text x="233.1" y="551.96" class="t te">0.8</text>
<line x1="374.82" y1="643.1" x2="374.82" y2="645" class="tk"/>
<line x1="234.7" y1="527.98" x2="236.6" y2="527.98" class="tk"/>
<text x="374.82" y="650.55" class="t tc">1.0</text>
<text x="233.1" y="530.03" class="t te">1.0</text>
<text x="309" y="519.9" class="ti tc">TGFNN Calibration Plot</text>
<text x="309" y="657.15" class="t tc">Mean predicted value</text>
<text transform="translate(221.8,582.8) rotate(-90)" class="t tc yl">Fraction of positives</text>
<rect x="257.6" y="689" width="10.09" height="15.2" class="bar"/>
<rect x="267.69" y="666.1" width="10.09" height="38.1" class="bar"/>
<rect x="277.78" y="674.3" width="10.09" height="29.9" class="bar"/>
<rect x="287.87" y="690.2" width="10.09" height="14" class="bar"/>
<rect x="297.96" y="694.8" width="10.09" height="9.4" class="bar"/>
<rect x="308.05" y="696.7" width="10.09" height="7.5" class="bar"/>
<rect x="318.14" y="699.5" width="10.09" height="4.7" class="bar"/>
<rect x="328.23" y="701.6" width="10.09" height="2.6" class="bar"/>
<rect x="338.32" y="702.8" width="10.09" height="1.4" class="bar"/>
<rect x="348.41" y="703.4" width="10.09" height="0.8" class="bar"/>
<rect x="236.6" y="664.2" width="144.7" height="40" class="sp"/>
<line x1="236.6" y1="704.2" x2="236.6" y2="706.1" class="tk"/>
<text x="236.6" y="711.8" class="t tc">0.0</text>
<line x1="265.54" y1="704.2" x2="265.54" y2="706.1" class="tk"/>
<text x="265.54" y="711.8" class="t tc">0.2</text>
<line x1="294.48" y1="704.2" x2="294.48" y2="706.1" class="tk"/>
<text x="294.48" y="711.8" class="t tc">0.4</text>
<line x1="323.42" y1="704.2" x2="323.42" y2="706.1" class="tk"/>
<text x="323.42" y="711.8" class="t tc">0.6</text>
<line x1="352.36" y1="704.2" x2="352.36" y2="706.1" class="tk"/>
<text x="352.36" y="711.8" class="t tc">0.8</text>
<line x1="381.3" y1="704.2" x2="381.3" y2="706.1" class="tk"/>
<text x="381.3" y="711.8" class="t tc">1.0</text>
<line x1="234.7" y1="704.2" x2="236.6" y2="704.2" class="tk"/>
<text x="233.1" y="706.25" class="t te">0</text>
<line x1="234.7" y1="693.76" x2="236.6" y2="693.76" class="tk"/>
<text x="233.1" y="695.81" class="t te">200</text>
<line x1="234.7" y1="683.31" x2="236.6" y2="683.31" class="tk"/>
<text x="233.1" y="685.36" class="t te">400</text>
<line x1="234.7" y1="672.87" x2="236.6" y2="672.87" class="tk"/>
<text x="233.1" y="674.92" class="t te">600</text>
<text x="308.95" y="718.8" class="t tc">Predicted values</text>
<text transform="translate(221,684.7) rotate(-90)" class="t tc yl">Frequency</text>
<text x="299.3" y="748.1" class="cap tc">(<tspan class="cl">g</tspan>)</text>
</g>
</svg>
</body></html>
